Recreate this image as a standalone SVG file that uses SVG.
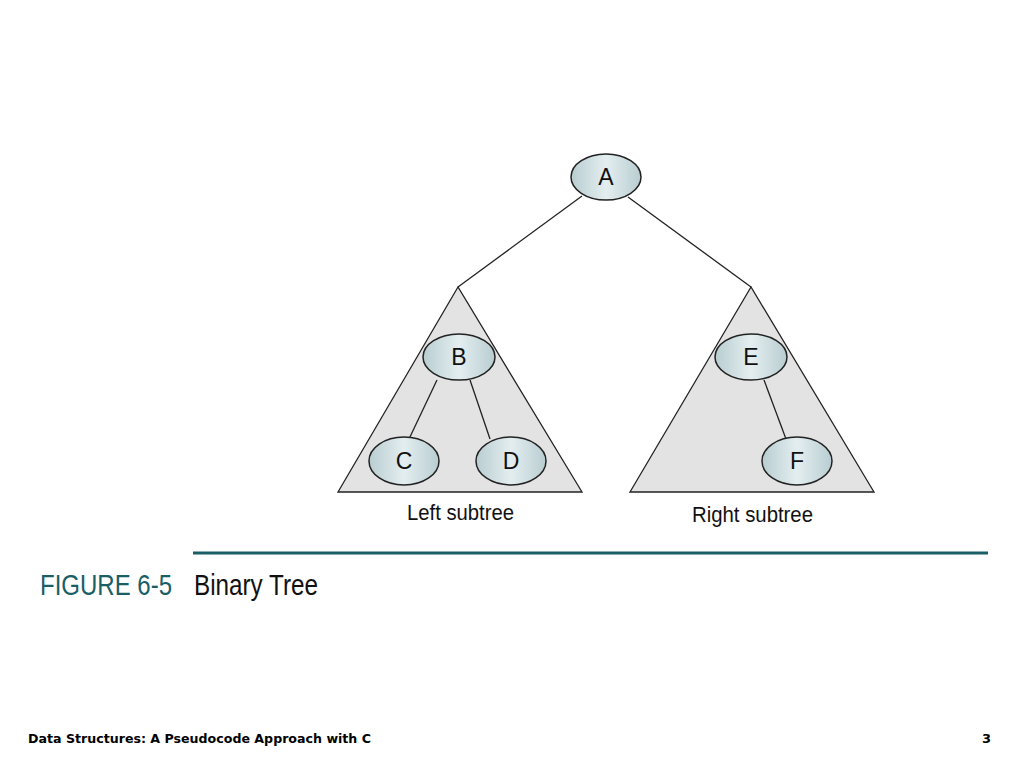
<svg xmlns="http://www.w3.org/2000/svg" width="1024" height="768" viewBox="0 0 1024 768">
<style>
.tri{fill:#e3e3e3;stroke:#222;stroke-width:1.3}
.nd{fill:url(#g);stroke:#222;stroke-width:1.5}
.lt{font-family:"Liberation Sans",Arial,sans-serif;font-size:23px;fill:#111;text-anchor:middle}
.cap{font-family:"Liberation Sans",Arial,sans-serif;font-size:22px;fill:#111}
.ed{stroke:#222;stroke-width:1.3;fill:none}
</style>
<defs>
<linearGradient id="g" x1="0" y1="0" x2="1" y2="0">
<stop offset="0" stop-color="#b8cdd1"/><stop offset="0.5" stop-color="#e4eef0"/><stop offset="1" stop-color="#b8cdd1"/>
</linearGradient>
</defs>
<rect width="1024" height="768" fill="#fff"/>
<polygon class="tri" points="458,287 338,492 582,492"/>
<polygon class="tri" points="751,287 630,492 874,492"/>
<g id="connectors">
<line class="ed" x1="582" y1="196" x2="458" y2="287"/>
<line class="ed" x1="628" y1="197" x2="751" y2="287"/>
<line class="ed" x1="437" y1="380" x2="409" y2="439"/>
<line class="ed" x1="470" y1="380" x2="490" y2="439"/>
<line class="ed" x1="764" y1="380" x2="786" y2="439"/>
</g>
<g id="A"><ellipse class="nd" cx="606" cy="177" rx="35" ry="23"/><text class="lt" x="606" y="185">A</text></g>
<g id="B"><ellipse class="nd" cx="459" cy="357" rx="36" ry="23"/><text class="lt" x="459" y="365">B</text></g>
<g id="C"><ellipse class="nd" cx="404" cy="461" rx="35" ry="24"/><text class="lt" x="404" y="469">C</text></g>
<g id="D"><ellipse class="nd" cx="511" cy="461" rx="35" ry="24"/><text class="lt" x="511" y="469">D</text></g>
<g id="E"><ellipse class="nd" cx="751" cy="357" rx="36" ry="23"/><text class="lt" x="751" y="365">E</text></g>
<g id="F"><ellipse class="nd" cx="797" cy="461" rx="35" ry="24"/><text class="lt" x="797" y="469">F</text></g>
<text class="cap" x="407" y="520" textLength="107" lengthAdjust="spacingAndGlyphs">Left subtree</text>
<text class="cap" x="692" y="522" textLength="121" lengthAdjust="spacingAndGlyphs">Right subtree</text>
<line x1="193" y1="553" x2="988" y2="553" stroke="#1a5e66" stroke-width="3"/>
<text x="40" y="595" font-family="Liberation Sans,Arial,sans-serif" font-size="30" fill="#1a5e66" textLength="132" lengthAdjust="spacingAndGlyphs">FIGURE 6-5</text>
<text x="194" y="595" font-family="Liberation Sans,Arial,sans-serif" font-size="30" fill="#111" textLength="124" lengthAdjust="spacingAndGlyphs">Binary Tree</text>
<text x="28" y="743" font-family="Verdana,'DejaVu Sans',sans-serif" font-weight="bold" font-size="13" fill="#000" textLength="343" lengthAdjust="spacingAndGlyphs">Data Structures: A Pseudocode Approach with C</text>
<text x="991" y="743" font-family="Verdana,'DejaVu Sans',sans-serif" font-weight="bold" font-size="13" fill="#000" text-anchor="end">3</text>
</svg>
